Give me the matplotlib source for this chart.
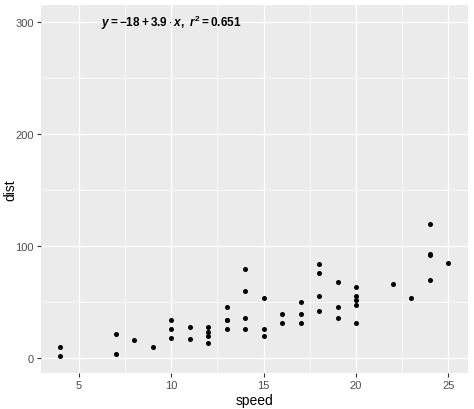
import matplotlib
matplotlib.use("Agg")
import matplotlib.pyplot as plt
from matplotlib.ticker import MultipleLocator

# cars veri seti
speed = [4, 4, 7, 7, 8, 9, 10, 10, 10, 11, 11, 12, 12, 12, 12, 13, 13, 13, 13,
         14, 14, 14, 14, 15, 15, 15, 16, 16, 17, 17, 17, 18, 18, 18, 18, 19, 19,
         19, 20, 20, 20, 20, 20, 22, 23, 24, 24, 24, 24, 25]
dist = [2, 10, 4, 22, 16, 10, 18, 26, 34, 17, 28, 14, 20, 24, 28, 26, 34, 34, 46,
        26, 36, 60, 80, 20, 26, 54, 32, 40, 32, 40, 50, 42, 56, 76, 84, 36, 46,
        68, 32, 48, 52, 56, 64, 66, 54, 70, 92, 93, 120, 85]

x_ticks = [5, 10, 15, 20, 25]
y_ticks = [0, 100, 200, 300]
eq_x, eq_y = 10, 300
eq_label = r"$y = \mathrm{-}18 + 3.9 \cdot x,\ r^2 = 0.651$"

plt.rcParams["font.family"] = ["Liberation Sans", "DejaVu Sans"]
plt.rcParams["mathtext.fontset"] = "custom"
plt.rcParams["mathtext.rm"] = "Liberation Sans:bold"
plt.rcParams["mathtext.it"] = "Liberation Sans:italic:bold"
plt.rcParams["mathtext.bf"] = "Liberation Sans:bold"

fig = plt.figure(figsize=(4.74, 4.10), dpi=100)
ax = fig.add_axes([0.0865, 0.088, 0.9005, 0.897])
ax.set_facecolor("#EBEBEB")

ax.scatter(speed, dist, s=13, color="black", zorder=3, linewidths=0)
ax.text(eq_x, eq_y, eq_label, ha="center", va="center", fontsize=8.5,
        zorder=4)

xmin, xmax = min(speed), max(speed)
ymin, ymax = min(dist), eq_y
ax.set_xlim(xmin - 0.05 * (xmax - xmin), xmax + 0.05 * (xmax - xmin))
ax.set_ylim(ymin - 0.05 * (ymax - ymin), ymax + 0.05 * (ymax - ymin))

ax.set_xticks(x_ticks)
ax.set_yticks(y_ticks)
ax.xaxis.set_minor_locator(MultipleLocator(2.5))
ax.yaxis.set_minor_locator(MultipleLocator(50))
ax.grid(which="major", color="white", linewidth=1.0, zorder=0)
ax.grid(which="minor", color="white", linewidth=0.5, zorder=0)
ax.set_axisbelow(True)

for s in ax.spines.values():
    s.set_visible(False)
ax.tick_params(which="major", length=3, width=0.8, color="#333333",
               labelcolor="#4D4D4D", labelsize=8, pad=2)
ax.tick_params(which="minor", length=0)

ax.set_xlabel("speed", fontsize=10, labelpad=2)
ax.set_ylabel("dist", fontsize=10, va="center")
ax.yaxis.set_label_coords(-0.072, 0.5)

fig.savefig("out.png", dpi=100)
